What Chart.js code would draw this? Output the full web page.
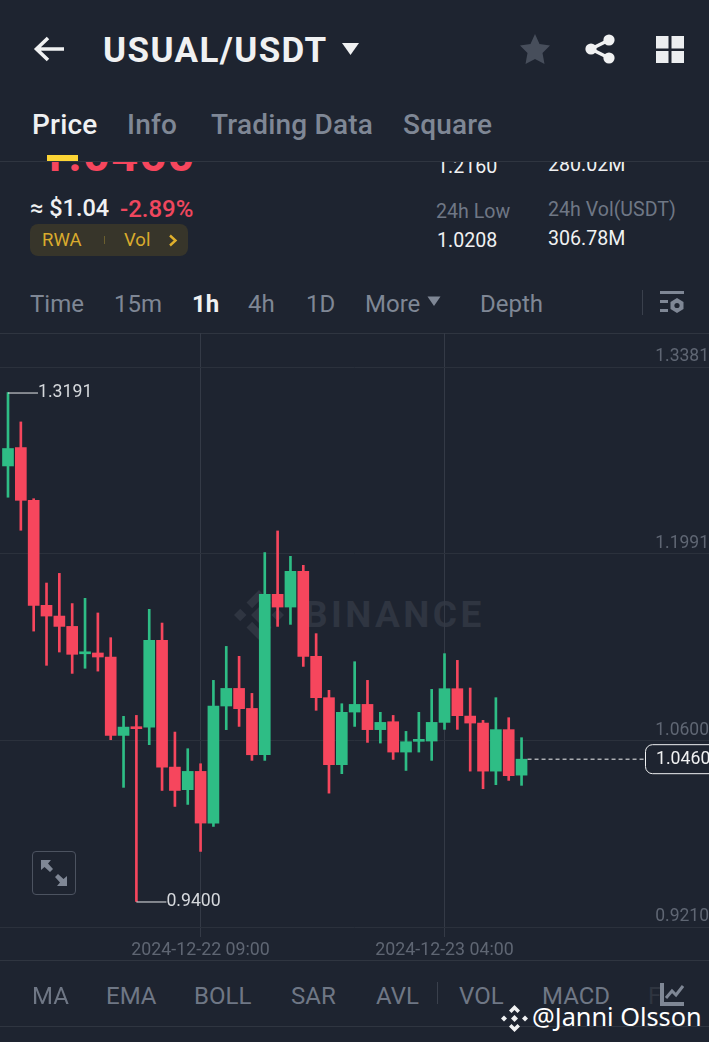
<!DOCTYPE html>
<html>
<head>
<meta charset="utf-8">
<script src="https://cdn.jsdelivr.net/npm/chart.js@4"></script>
<style>
html,body{margin:0;padding:0;background:#1e2430;}
#page{position:relative;width:709px;height:1042px;overflow:hidden;background:#1e2430;font-family:Roboto,sans-serif;color:#848e9c;}
#page > *{position:absolute;}
.t{white-space:nowrap;line-height:1;}
.line{left:0;width:709px;height:1px;background:#2f3540;}
.white{color:#f0f1f2;}
.tab{font-size:28px;font-weight:500;letter-spacing:0.2px;top:111px;color:#7f8795;}
.tool{font-size:24px;top:292px;color:#7f8795;}
.ind{font-size:24px;top:984px;color:#6f7785;}
.small{font-size:19.6px;}
#grafico{left:0;top:333px;}
</style>
</head>
<body>
<div id="page">
  <svg style="left:33px;top:34px" width="34" height="30" viewBox="0 0 34 30"><path d="M31 15H4M15 4L3.5 15L15 26" fill="none" stroke="#f0f1f2" stroke-width="3.6"/></svg>
  <div class="t white" style="left:103px;top:33px;font-size:35px;font-weight:700;letter-spacing:1.4px;">USUAL/USDT</div>
  <svg style="left:341px;top:42px" width="19" height="14"><path d="M1 1H18L9.5 13Z" fill="#f0f1f2"/></svg>
  <svg style="left:519px;top:33px" width="32" height="32" viewBox="0 0 32 32"><path d="M16 1L20.5 11L31 12.5L23.5 20L25.5 31L16 26L6.5 31L8.5 20L1 12.5L11.5 11Z" fill="#474e5b"/></svg>
  <svg style="left:584px;top:33px" width="32" height="32" viewBox="0 0 32 32"><path d="M25 7L7 16L25 25" fill="none" stroke="#f0f1f2" stroke-width="3.5"/><circle cx="25" cy="7" r="5.6" fill="#f0f1f2"/><circle cx="7" cy="16" r="5.6" fill="#f0f1f2"/><circle cx="25" cy="25" r="5.6" fill="#f0f1f2"/></svg>
  <svg style="left:656px;top:36px" width="28" height="27"><path d="M0 0H12.5V12.5H0ZM15.5 0H28V12.5H15.5ZM0 15H12.5V27H0ZM15.5 15H28V27H15.5Z" fill="#eceef0"/></svg>

  <div class="t tab white" style="left:32px;color:#f0f1f2;">Price</div>
  <div class="t tab" style="left:127px;">Info</div>
  <div class="t tab" style="left:211px;">Trading Data</div>
  <div class="t tab" style="left:403px;">Square</div>

  <!-- faixa cortada pelo scroll, so aparece a parte de baixo dos numeros -->
  <div style="left:0;top:162px;width:709px;height:20px;overflow:hidden;">
    <div class="t" style="position:absolute;left:40px;top:-31px;font-size:47px;font-weight:700;letter-spacing:1.2px;color:#f6465d;">1.0460</div>
    <div class="t white" style="position:absolute;left:437px;top:-5px;font-size:19.6px;">1.2160</div>
    <div class="t white" style="position:absolute;left:548px;top:-7px;font-size:19.6px;">280.02M</div>
  </div>
  <div class="line" style="top:161px;"></div>
  <div style="left:47px;top:155px;width:31px;height:6px;background:#fcd535;"></div>

  <div class="t white" style="left:30px;top:197px;font-size:23.5px;font-weight:500;">≈ $1.04</div>
  <div class="t" style="left:120px;top:197px;font-size:24px;font-weight:500;color:#f0475e;">-2.89%</div>
  <div class="t small" style="left:436px;top:202px;color:#6f7785;">24h Low</div>
  <div class="t small" style="left:548px;top:200px;color:#6f7785;">24h Vol(USDT)</div>
  <div class="t small white" style="left:437px;top:231px;">1.0208</div>
  <div class="t small white" style="left:548px;top:229px;">306.78M</div>

  <div style="left:30px;top:224px;width:158px;height:32px;border-radius:8px;background:#37352a;"></div>
  <div class="t" style="left:42px;top:231px;font-size:18.5px;color:#d9ab2d;">RWA</div>
  <div style="left:104px;top:236px;width:1px;height:8px;background:#6b5f2e;"></div>
  <div class="t" style="left:124px;top:231px;font-size:18.5px;color:#d9ab2d;">Vol</div>
  <svg style="left:168px;top:234px" width="10" height="13"><path d="M2 1.5L7.5 6.5L2 11.5" fill="none" stroke="#e0b02c" stroke-width="2.4"/></svg>

  <div class="t tool" style="left:30px;">Time</div>
  <div class="t tool" style="left:114px;">15m</div>
  <div class="t tool white" style="left:192px;font-weight:700;color:#f0f1f2;">1h</div>
  <div class="t tool" style="left:248px;">4h</div>
  <div class="t tool" style="left:306px;">1D</div>
  <div class="t tool" style="left:365px;">More</div>
  <svg style="left:427px;top:296px" width="14" height="11"><path d="M0.5 0.5H13.5L7 10Z" fill="#7f8795"/></svg>
  <div class="t tool" style="left:480px;">Depth</div>
  <div style="left:642px;top:290px;width:1px;height:25px;background:#3a404c;"></div>
  <svg style="left:660px;top:291px" width="25" height="25"><path d="M0 0H24V3H0ZM0 9H8V12H0ZM0 18H8V21H0Z" fill="#7f8795"/><path d="M17 7L23.5 11V18L17 22L10.5 18V11Z" fill="#7f8795"/><circle cx="17" cy="14.5" r="2.6" fill="#1e2430"/></svg>

  <div class="line" style="top:333px;"></div>

  <!-- marca d'agua -->
  <svg style="left:234px;top:590px" width="50" height="50" viewBox="0 0 44 44"><g fill="#2f3541"><path d="M22 0L33 11L28 16L22 10L16 16L11 11Z"/><path d="M22 44L11 33L16 28L22 34L28 28L33 33Z"/><path d="M0 22L5.5 16.5L11 22L5.5 27.5Z"/><path d="M33 22L38.5 16.5L44 22L38.5 27.5Z"/><path d="M22 15L29 22L22 29L15 22Z"/></g></svg>
  <div class="t" style="left:304px;top:596px;font-size:37px;font-weight:700;letter-spacing:3.4px;color:#2f3541;">BINANCE</div>

  <canvas id="grafico" width="709" height="627"></canvas>

  <div style="left:32px;top:851px;width:42px;height:42px;border:1px solid #4c5360;border-radius:4px;"></div>
  <svg style="left:41px;top:860px" width="26" height="26" viewBox="0 0 26 26"><g fill="#7f8795"><path d="M0 0H10L7 3.5L12 9L9 12L3.5 7L0 10Z"/><path d="M26 26H16L19 22.5L14 17L17 14L22.5 19L26 16Z"/></g></svg>

  <div class="line" style="top:960px;"></div>
  <div class="t ind" style="left:32px;">MA</div>
  <div class="t ind" style="left:106px;">EMA</div>
  <div class="t ind" style="left:194px;">BOLL</div>
  <div class="t ind" style="left:291px;">SAR</div>
  <div class="t ind" style="left:376px;">AVL</div>
  <div style="left:437px;top:982px;width:1px;height:22px;background:#3a404c;"></div>
  <div class="t ind" style="left:459px;">VOL</div>
  <div class="t ind" style="left:542px;">MACD</div>
  <div class="t ind" style="left:648px;color:#2f3540;">F</div>
  <svg style="left:660px;top:983px" width="24" height="24"><path d="M0 0H4V19H24V23H0Z" fill="#7f8795"/><path d="M6 15L12 8L16 12L23 3" fill="none" stroke="#7f8795" stroke-width="3"/></svg>
  <div class="line" style="top:1026px;"></div>

  <svg style="left:501px;top:1005px" width="27" height="27" viewBox="0 0 27 27"><g fill="#f0f1f2"><path d="M13.5 0L19 5.5L16.5 8L13.5 5L10.5 8L8 5.5Z"/><path d="M13.5 27L8 21.5L10.5 19L13.5 22L16.5 19L19 21.5Z"/><path d="M0 13.5L3 10.5L6 13.5L3 16.5Z"/><path d="M21 13.5L24 10.5L27 13.5L24 16.5Z"/><path d="M13.5 10L17 13.5L13.5 17L10 13.5Z"/></g></svg>
  <div class="t white" style="left:532px;top:1004px;font-family:'Noto Sans';font-size:25.3px;color:#fff;">@Janni Olsson</div>
</div>

<script>
// candles de 1h
const horarios = ['2024-12-21 18:00','2024-12-21 19:00','2024-12-21 20:00','2024-12-21 21:00','2024-12-21 22:00','2024-12-21 23:00',
    '2024-12-22 00:00','2024-12-22 01:00','2024-12-22 02:00','2024-12-22 03:00','2024-12-22 04:00','2024-12-22 05:00',
    '2024-12-22 06:00','2024-12-22 07:00','2024-12-22 08:00','2024-12-22 09:00','2024-12-22 10:00','2024-12-22 11:00',
    '2024-12-22 12:00','2024-12-22 13:00','2024-12-22 14:00','2024-12-22 15:00','2024-12-22 16:00','2024-12-22 17:00',
    '2024-12-22 18:00','2024-12-22 19:00','2024-12-22 20:00','2024-12-22 21:00','2024-12-22 22:00','2024-12-22 23:00',
    '2024-12-23 00:00','2024-12-23 01:00','2024-12-23 02:00','2024-12-23 03:00','2024-12-23 04:00','2024-12-23 05:00',
    '2024-12-23 06:00','2024-12-23 07:00','2024-12-23 08:00','2024-12-23 09:00','2024-12-23 10:00'];
const aberturas = [1.2644,1.2781,1.2388,1.1606,1.1526,1.1449,1.1245,1.1251,1.1221,1.0637,1.0699,1.0699,1.1345,1.0401,1.0233,1.0369,0.9984,1.0856,1.0987,1.0838,1.0493,
    1.1688,1.1593,1.1859,1.1226,1.0918,1.0419,1.0811,1.0868,1.0680,1.0739,1.0513,1.0593,1.0595,1.0734,1.0985,1.0781,1.0729,1.0371,1.0680,1.0341];
const fechamentos = [1.2774,1.2388,1.1606,1.1526,1.1449,1.1241,1.1254,1.1221,1.0637,1.0699,1.0687,1.1345,1.0401,1.0227,1.0369,0.9984,1.0856,1.0987,1.0836,1.0493,1.1688,
    1.1593,1.1859,1.1226,1.0918,1.0419,1.0809,1.0868,1.0680,1.0734,1.0513,1.0590,1.0605,1.0734,1.0985,1.0784,1.0729,1.0371,1.0680,1.0337,1.0460];
const maximas = [1.3191,1.2972,1.2400,1.1772,1.1844,1.1619,1.1658,1.1549,1.1365,1.0779,1.0786,1.1576,1.1474,1.0662,1.0538,1.0426,1.1047,1.1300,1.1226,1.0950,1.1999,
    1.2160,1.1971,1.1904,1.1395,1.0973,1.0873,1.1186,1.1047,1.0809,1.0786,1.0667,1.0809,1.0980,1.1246,1.1196,1.0990,1.0749,1.0918,1.0769,1.0620];
const minimas = [1.2411,1.2165,1.1414,1.1159,1.1258,1.1099,1.1137,1.1116,1.0605,1.0250,0.9400,1.0568,1.0227,1.0108,1.0123,0.9773,0.9959,1.0680,1.0704,1.0451,1.0451,
    1.1449,1.1464,1.1151,1.0824,1.0207,1.0352,1.0704,1.0585,1.0580,1.0458,1.0376,1.0513,1.0451,1.0682,1.0682,1.0371,1.0240,1.0270,1.0302,1.0265];
const precosEixo = [1.3381,1.1991,1.0600,0.9210];
const indicesEixoX = [15,34];
const precoAtual = 1.0460;

const VERDE = '#2ebd85';
const VERMELHO = '#f6465d';
const cores = aberturas.map((a, i) => fechamentos[i] >= a ? VERDE : VERMELHO);

// linha do preco atual e os rotulos de maxima/minima
const anotacoes = {
    id: 'anotacoes',
    afterDatasetsDraw(chart) {
        const {ctx, scales: {x, y}} = chart;
        ctx.save();
        ctx.font = '17.7px Roboto';
        ctx.textBaseline = 'middle';

        const iMax = maximas.indexOf(Math.max(...maximas));
        const iMin = minimas.indexOf(Math.min(...minimas));
        [[iMax, maximas[iMax]], [iMin, minimas[iMin]]].forEach(([i, v]) => {
            const px = x.getPixelForValue(i), py = y.getPixelForValue(v);
            ctx.strokeStyle = '#e6e8ea';
            ctx.lineWidth = 1;
            ctx.beginPath();
            ctx.moveTo(px, py + 0.5);
            ctx.lineTo(px + 30, py + 0.5);
            ctx.stroke();
            ctx.fillStyle = '#d5d8dc';
            ctx.textAlign = 'left';
            ctx.fillText(v.toFixed(4), px + 30, py + 0.5);
        });

        const yAtual = y.getPixelForValue(precoAtual);
        ctx.strokeStyle = '#f0f1f2';
        ctx.setLineDash([4, 3]);
        ctx.beginPath();
        ctx.moveTo(x.getPixelForValue(40) + 6, yAtual);
        ctx.lineTo(645, yAtual);
        ctx.stroke();
        ctx.setLineDash([]);

        ctx.fillStyle = '#1e2430';
        ctx.beginPath();
        ctx.roundRect(645.5, yAtual - 14.5, 80, 29, 7);
        ctx.fill();
        ctx.stroke();
        ctx.fillStyle = '#f0f1f2';
        ctx.fillText(precoAtual.toFixed(4), 656, yAtual + 0.5);
        ctx.restore();
    }
};

new Chart(document.getElementById('grafico'), {
    type: 'bar',
    data: {
        datasets: [{
            // pavio
            data: horarios.map((h, i) => ({x: i, y: [minimas[i], maximas[i]]})),
            backgroundColor: cores,
            barThickness: 2,
            order: 2
        }, {
            // corpo
            data: horarios.map((h, i) => ({x: i, y: [aberturas[i], fechamentos[i]]})),
            backgroundColor: cores,
            barThickness: 11,
            minBarLength: 2,
            order: 1
        }]
    },
    options: {
        responsive: false,
        animation: false,
        devicePixelRatio: 1,
        layout: {padding: 0},
        plugins: {legend: {display: false}, tooltip: {enabled: false}},
        scales: {
            x: {
                type: 'linear',
                offset: false,
                min: -0.623,
                max: 54.6,
                border: {display: false},
                grid: {color: '#343a46', offset: false, tickLength: 10},
                afterBuildTicks: (eixo) => { eixo.ticks = indicesEixoX.map(v => ({value: v})); },
                afterFit: (eixo) => { eixo.height = 33; eixo.paddingLeft = 0; eixo.paddingRight = 0; },
                ticks: {
                    autoSkip: false,
                    maxRotation: 0,
                    padding: 2.5,
                    color: '#5f6673',
                    font: {size: 17.8, family: 'Roboto'},
                    callback: (v) => horarios[v]
                }
            },
            y: {
                position: 'right',
                min: 0.9210,
                max: 1.36343,
                border: {display: false},
                grid: {color: '#2b313c', drawTicks: false},
                afterBuildTicks: (eixo) => { eixo.ticks = precosEixo.map(v => ({value: v})); },
                afterFit: (eixo) => { eixo.paddingTop = 0; eixo.paddingBottom = 0; },
                ticks: {
                    mirror: true,
                    padding: 0,
                    labelOffset: -10,
                    color: '#5f6673',
                    font: {size: 17.5, family: 'Roboto'},
                    callback: (v) => v.toFixed(4)
                }
            }
        },
        datasets: {bar: {grouped: false}}
    },
    plugins: [anotacoes]
});
</script>
</body>
</html>
